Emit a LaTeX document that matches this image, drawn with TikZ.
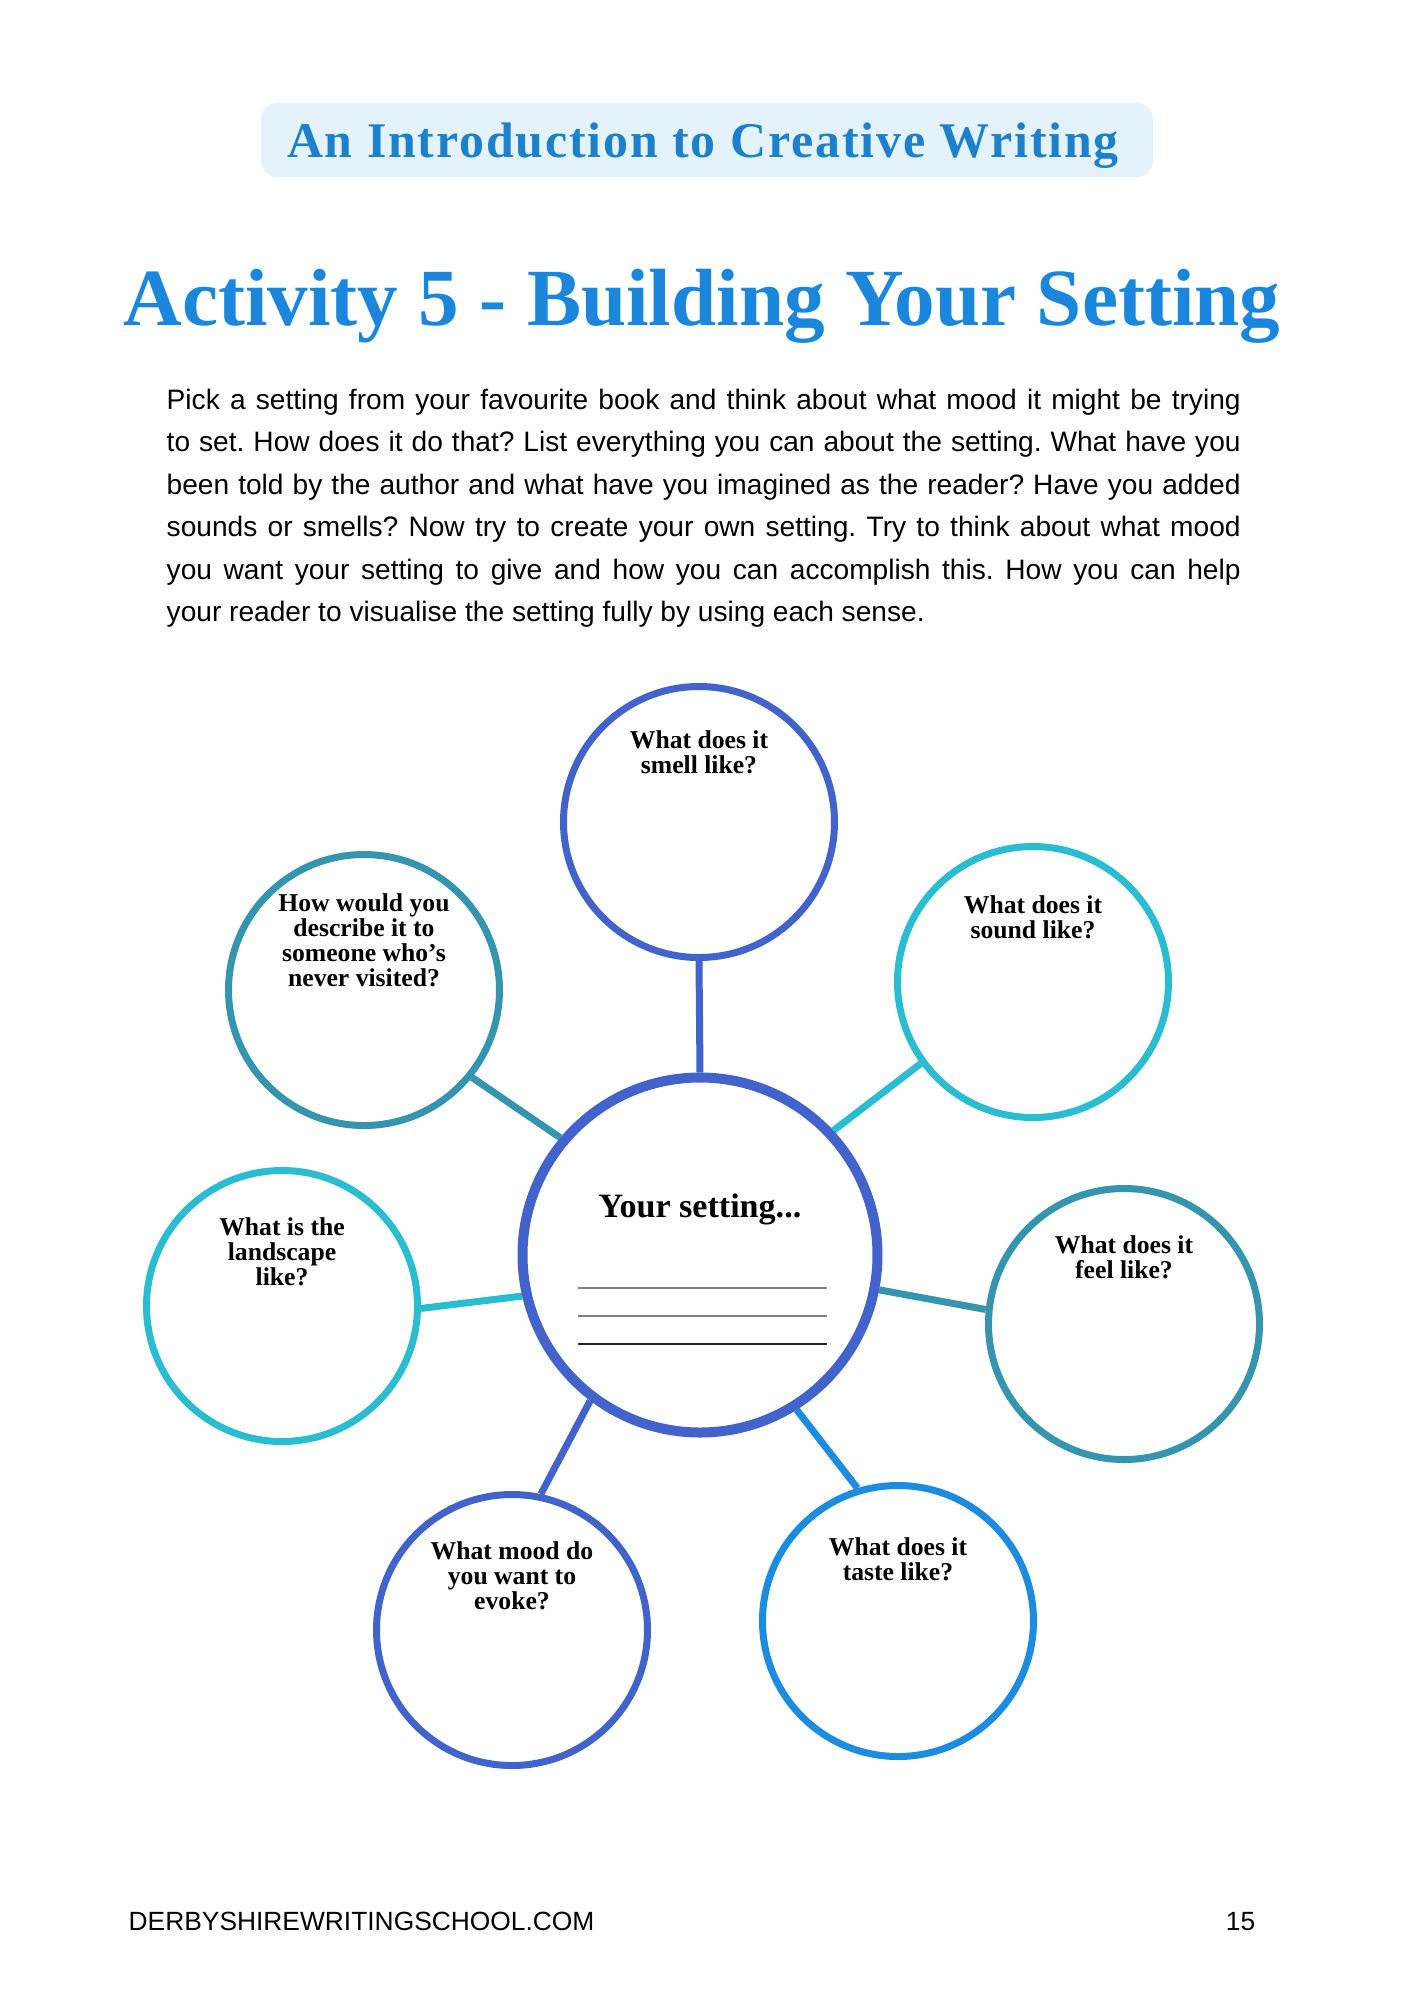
\documentclass[tikz,border=0pt]{standalone}
\usepackage{fontspec}
\usetikzlibrary{positioning,backgrounds}

\newfontfamily\serifhead{Liberation Serif}
\newfontfamily\spacedhead{Liberation Serif}[LetterSpace=3.7]
\newfontfamily\bodysans{Liberation Sans}
\frenchspacing

\definecolor{titleblue}{HTML}{1A87DC}
\definecolor{bannerfill}{HTML}{E4F2FC}
\definecolor{bannerblue}{HTML}{1D80CD}
\definecolor{royal}{HTML}{4263CB}
\definecolor{aqua}{HTML}{2ABCD1}
\definecolor{sea}{HTML}{3594AE}
\definecolor{sky}{HTML}{1B8CDF}

\tikzset{
  ring/.style={circle, line width=0.7mm, minimum size=27.1mm, inner sep=0pt},
  ask/.style={font=\serifhead\bfseries\fontsize{7.3}{7.1}\selectfont, align=center, inner sep=0pt},
  link/.style={line width=0.7mm},
}

\begin{document}
\begin{tikzpicture}[x=0.1mm, y=-0.1mm]
  \useasboundingbox (0,0) rectangle (1414,2000);

  % Banner and title
  \node[fill=bannerfill, rounded corners=1.6mm, minimum width=89.2mm, minimum height=7.4mm] (banner) at (707,140) {};
  \node[anchor=base, font=\spacedhead\bfseries\fontsize{14.2}{16}\selectfont, text=bannerblue] (heading) at (703,157) {An Introduction to Creative Writing};
  \node[anchor=base, font=\serifhead\bfseries\fontsize{23.1}{26}\selectfont, text=titleblue] (title) at (702,325) {Activity 5 - Building Your Setting};

  % Instructions
  \node[anchor=base west, text width=107.4mm, align=justify, inner sep=0pt, font=\bodysans\fontsize{8}{12.1}\selectfont] (intro) at (166,409)
    {Pick a setting from your favourite book and think about what mood it might be trying\linebreak
     to set. How does it do that? List everything you can about the setting. What have you\linebreak
     been told by the author and what have you imagined as the reader? Have you added\linebreak
     sounds or smells? Now try to create your own setting. Try to think about what mood\linebreak
     you want your setting to give and how you can accomplish this. How you can help\linebreak
     your reader to visualise the setting fully by using each sense.};

  % Centre circle
  \node[ring, draw=royal, line width=1mm, minimum size=35.5mm] (setting) at (700,1255) {};
  \node[font=\serifhead\bfseries\fontsize{9.7}{11}\selectfont, inner sep=0pt, below=12.1mm of setting.north] (settingtxt) {Your setting...};
  \foreach \dy/\c in {33/black!50, 61/black!50, 89/black!85}
    \draw[line width=0.35pt, \c] ([shift={(-122,\dy)}]setting.center) -- ++(249,0);

  % Question circles
  \foreach \n/\x/\y/\c/\d/\t in {
      smell/699/822/royal/4.7mm/{What does it\\smell like?},
      sound/1033/982/aqua/5.2mm/{What does it\\sound like?},
      how/364/990/sea/4.2mm/{How would you\\describe it to\\someone who’s\\never visited?},
      landscape/282/1306/aqua/5mm/{What is the\\landscape\\like?},
      feel/1124/1324/sea/5mm/{What does it\\feel like?},
      mood/512/1630/royal/5mm/{What mood do\\you want to\\evoke?},
      taste/898/1621/sky/5.5mm/{What does it\\taste like?}}{
    \node[ring, draw=\c] (\n) at (\x,\y) {};
    \node[ask, below=\d of \n.north] (\n-q) {\t};
  }

  % Spokes
  \begin{scope}[on background layer]
    \draw[link, royal] (setting.north) -- (smell.south);
    \draw[link, aqua] (setting.43) -- (sound.-144);
    \draw[link, sea] (setting.140) -- (how.-39);
    \draw[link, aqua] (setting.-167) -- (landscape.-1);
    \draw[link, sea] (setting.-11) -- (feel.174);
    \draw[link, royal] (setting.-127) -- (mood.78);
    \draw[link, sky] (setting.-58) -- (taste.107);
  \end{scope}

  % Footer
  \node[anchor=base west, inner sep=0pt, font=\bodysans\fontsize{7.5}{9}\selectfont] (site) at (128,1930) {DERBYSHIREWRITINGSCHOOL.COM};
  \node[anchor=base east, inner sep=0pt, font=\bodysans\fontsize{7.5}{9}\selectfont] (page) at (1256,1930) {15};
\end{tikzpicture}
\end{document}
